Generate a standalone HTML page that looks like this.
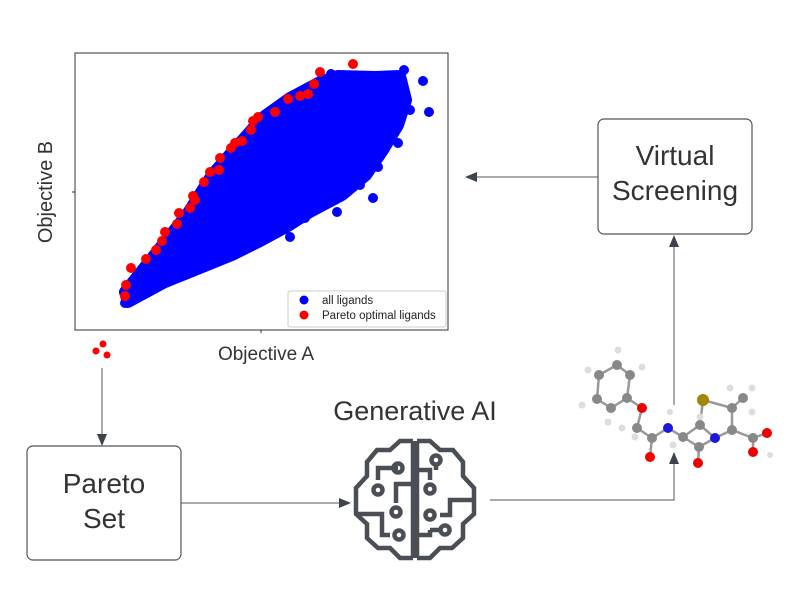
<!DOCTYPE html>
<html><head><meta charset="utf-8"><style>
html,body{margin:0;padding:0;background:#fff;}
svg{display:block;font-family:"Liberation Sans",sans-serif;}
</style></head><body>
<svg width="800" height="600" viewBox="0 0 800 600">
<defs>
<marker id="ar" markerWidth="12" markerHeight="10" refX="11" refY="5" orient="auto" markerUnits="userSpaceOnUse">
<path d="M0,0 L12,5 L0,10 z" fill="#3c434b"/></marker>
</defs>
<rect x="75" y="53" width="373" height="277" fill="#fff" stroke="#333" stroke-width="1"/>
<line x1="75" y1="192" x2="72" y2="192" stroke="#333"/>
<line x1="261" y1="330" x2="261" y2="333" stroke="#333"/>
<polygon points="125,292 160,248 188,213 212,175 240,143 262,118 290,98 320,82 338,76 375,77 400,76 406,100 398,125 383,150 366,175 342,195 310,212 288,226 262,240 232,255 200,268 165,282 128,302" fill="#0000ff" stroke="#0000ff" stroke-width="12" stroke-linejoin="round"/>
<g fill="#0000ff">
<circle cx="125" cy="303" r="5"/><circle cx="135" cy="296" r="5"/><circle cx="143" cy="288" r="5"/>
<circle cx="331" cy="74" r="5"/><circle cx="404" cy="70" r="5"/><circle cx="423" cy="81" r="5"/><circle cx="429" cy="112" r="5"/>
<circle cx="373" cy="198" r="5"/><circle cx="337" cy="212" r="5"/><circle cx="290" cy="237" r="5"/><circle cx="253" cy="238" r="5"/>
<circle cx="217" cy="258" r="5"/><circle cx="203" cy="263" r="5"/><circle cx="179" cy="270" r="5"/><circle cx="152" cy="282" r="5"/>
<circle cx="378" cy="157" r="5"/><circle cx="378" cy="167" r="5"/><circle cx="398" cy="143" r="5"/><circle cx="410" cy="110" r="5"/>
<circle cx="330" cy="200" r="5"/><circle cx="360" cy="185" r="5"/><circle cx="270" cy="235" r="5"/><circle cx="305" cy="218" r="5"/>
</g>
<g fill="#ff0000">
<circle cx="125" cy="296" r="5"/><circle cx="126" cy="285" r="5"/><circle cx="131" cy="268" r="5"/><circle cx="146" cy="259" r="5"/>
<circle cx="156" cy="250" r="5"/><circle cx="162" cy="241" r="5"/><circle cx="165" cy="232" r="5"/><circle cx="177" cy="224" r="5"/>
<circle cx="179" cy="213" r="5"/><circle cx="190" cy="208" r="5"/><circle cx="193" cy="196" r="5"/><circle cx="195" cy="200" r="5"/>
<circle cx="204" cy="182" r="5"/><circle cx="210" cy="172" r="5"/><circle cx="220" cy="158" r="5"/><circle cx="219" cy="170" r="5"/>
<circle cx="231" cy="148" r="5"/><circle cx="235" cy="143" r="5"/><circle cx="242" cy="141" r="5"/><circle cx="251" cy="130" r="5"/>
<circle cx="253" cy="121" r="5"/><circle cx="258" cy="117" r="5"/><circle cx="275" cy="112" r="5"/><circle cx="288" cy="99" r="5"/>
<circle cx="300" cy="96" r="5"/><circle cx="308" cy="94" r="5"/><circle cx="314" cy="84" r="5"/><circle cx="320" cy="72" r="5"/><circle cx="353" cy="64" r="5"/>
</g>
<rect x="288" y="291" width="158" height="36" fill="#fff" stroke="#ccc" rx="2"/>
<circle cx="304" cy="300" r="4.5" fill="#0000ff"/><circle cx="304" cy="315" r="4.5" fill="#ff0000"/>
<text x="322" y="304" font-size="11.5" fill="#222">all ligands</text>
<text x="322" y="319" font-size="11.5" fill="#222">Pareto optimal ligands</text>
<text transform="translate(52,192) rotate(-90)" text-anchor="middle" font-size="20" fill="#333">Objective B</text>
<text x="266" y="360" text-anchor="middle" font-size="19" fill="#333">Objective A</text>
<circle cx="96" cy="351" r="3.5" fill="#f00"/><circle cx="103" cy="344" r="3.5" fill="#f00"/><circle cx="107" cy="355" r="3.5" fill="#f00"/>
<rect x="598" y="119" width="154" height="115" rx="6" fill="#fff" stroke="#555" stroke-width="1.2"/>
<text x="675" y="165" text-anchor="middle" font-size="28" fill="#333">Virtual</text>
<text x="675" y="200" text-anchor="middle" font-size="28" fill="#333">Screening</text>
<rect x="27" y="446" width="154" height="114" rx="6" fill="#fff" stroke="#555" stroke-width="1.2"/>
<text x="104" y="493" text-anchor="middle" font-size="28" fill="#333">Pareto</text>
<text x="104" y="528" text-anchor="middle" font-size="28" fill="#333">Set</text>
<text x="415" y="420" text-anchor="middle" font-size="27" fill="#333">Generative AI</text>
<g stroke="#555" stroke-width="1" fill="none">
<line x1="102" y1="368" x2="102" y2="445" marker-end="url(#ar)"/>
<line x1="181" y1="503" x2="350" y2="503" marker-end="url(#ar)"/>
<polyline points="490,500 674,500 674,453" marker-end="url(#ar)"/>
<line x1="674" y1="405" x2="674" y2="236" marker-end="url(#ar)"/>
<line x1="598" y1="177" x2="466" y2="177" marker-end="url(#ar)"/>
</g>
<g stroke="#4a4f56" stroke-width="4.5" fill="none" stroke-linejoin="miter">
<polyline points="413,441 400,441 390,450 377,450 367,462 367,476 356,488 356,514 367,524 367,538 378,548 390,548 400,558 413,558"/>
<polyline points="417,441 430,441 440,450 453,450 463,462 463,476 474,488 474,514 463,524 463,538 452,548 440,548 430,558 417,558"/>
<line x1="413" y1="441" x2="413" y2="558"/><line x1="417" y1="441" x2="417" y2="558"/>
<polyline points="398,468 378,468 378,480"/><circle cx="378" cy="490" r="4.5"/><circle cx="398" cy="468" r="4.5"/>
<polyline points="413,484 396,484 396,503"/><circle cx="396" cy="512" r="4.5"/>
<polyline points="356,514 382,514 382,535 390,535"/><circle cx="399" cy="535" r="4.5"/>
<polyline points="417,470 430,470 430,480"/><circle cx="430" cy="489" r="4.5"/><circle cx="436" cy="460" r="4.5"/><line x1="436" y1="465" x2="436" y2="470"/>
<polyline points="474,500 450,500 450,515 440,515"/><circle cx="430" cy="515" r="4.5"/>
<polyline points="417,535 430,535 430,530"/><circle cx="445" cy="530" r="4.5"/><line x1="430" y1="530" x2="440" y2="530"/>
</g>
<g stroke="#999" stroke-width="2.5">
<polyline points="617,365 630,375 627,398 611,408 597,399 599,375 617,365" fill="none"/>
<polyline points="627,398 642,408 637,428 652,438 668,428 683,437 700,425 715,438 699,447 683,437" fill="none"/>
<line x1="652" y1="438" x2="650" y2="457"/><line x1="699" y1="447" x2="698" y2="463"/>
<polyline points="700,425 703,400 732,408 732,430 715,438" fill="none"/>
<line x1="732" y1="408" x2="743" y2="398"/><polyline points="732,430 753,438 767,433" fill="none"/><line x1="753" y1="438" x2="753" y2="452"/>
</g>
<g fill="#ddd">
<circle cx="618" cy="350" r="3.5"/><circle cx="642" cy="367" r="3.5"/><circle cx="588" cy="370" r="3.5"/><circle cx="582" cy="405" r="3.5"/>
<circle cx="608" cy="422" r="3.5"/><circle cx="622" cy="428" r="3.5"/><circle cx="635" cy="437" r="3.5"/><circle cx="670" cy="412" r="3"/>
<circle cx="673" cy="445" r="3.5"/><circle cx="700" cy="417" r="3.5"/><circle cx="730" cy="388" r="3.5"/><circle cx="752" cy="388" r="3.5"/>
<circle cx="752" cy="412" r="3.5"/><circle cx="770" cy="455" r="3"/>
</g>
<g fill="#888">
<circle cx="617" cy="365" r="5"/><circle cx="630" cy="375" r="5"/><circle cx="627" cy="398" r="5"/><circle cx="611" cy="408" r="5"/>
<circle cx="597" cy="399" r="5"/><circle cx="599" cy="375" r="5"/><circle cx="637" cy="428" r="5"/><circle cx="652" cy="438" r="5"/>
<circle cx="683" cy="437" r="5"/><circle cx="700" cy="425" r="5"/><circle cx="699" cy="447" r="5"/><circle cx="732" cy="408" r="5"/>
<circle cx="743" cy="398" r="5"/><circle cx="732" cy="430" r="5"/><circle cx="753" cy="438" r="5"/>
</g>
<g fill="#e00">
<circle cx="642" cy="408" r="5"/><circle cx="650" cy="457" r="5"/><circle cx="698" cy="463" r="5"/><circle cx="767" cy="433" r="5"/><circle cx="753" cy="452" r="5"/>
</g>
<circle cx="668" cy="428" r="5" fill="#1a1ad8"/><circle cx="715" cy="438" r="5" fill="#1a1ad8"/>
<circle cx="703" cy="400" r="6" fill="#a08800"/>
</svg>
</body></html>
